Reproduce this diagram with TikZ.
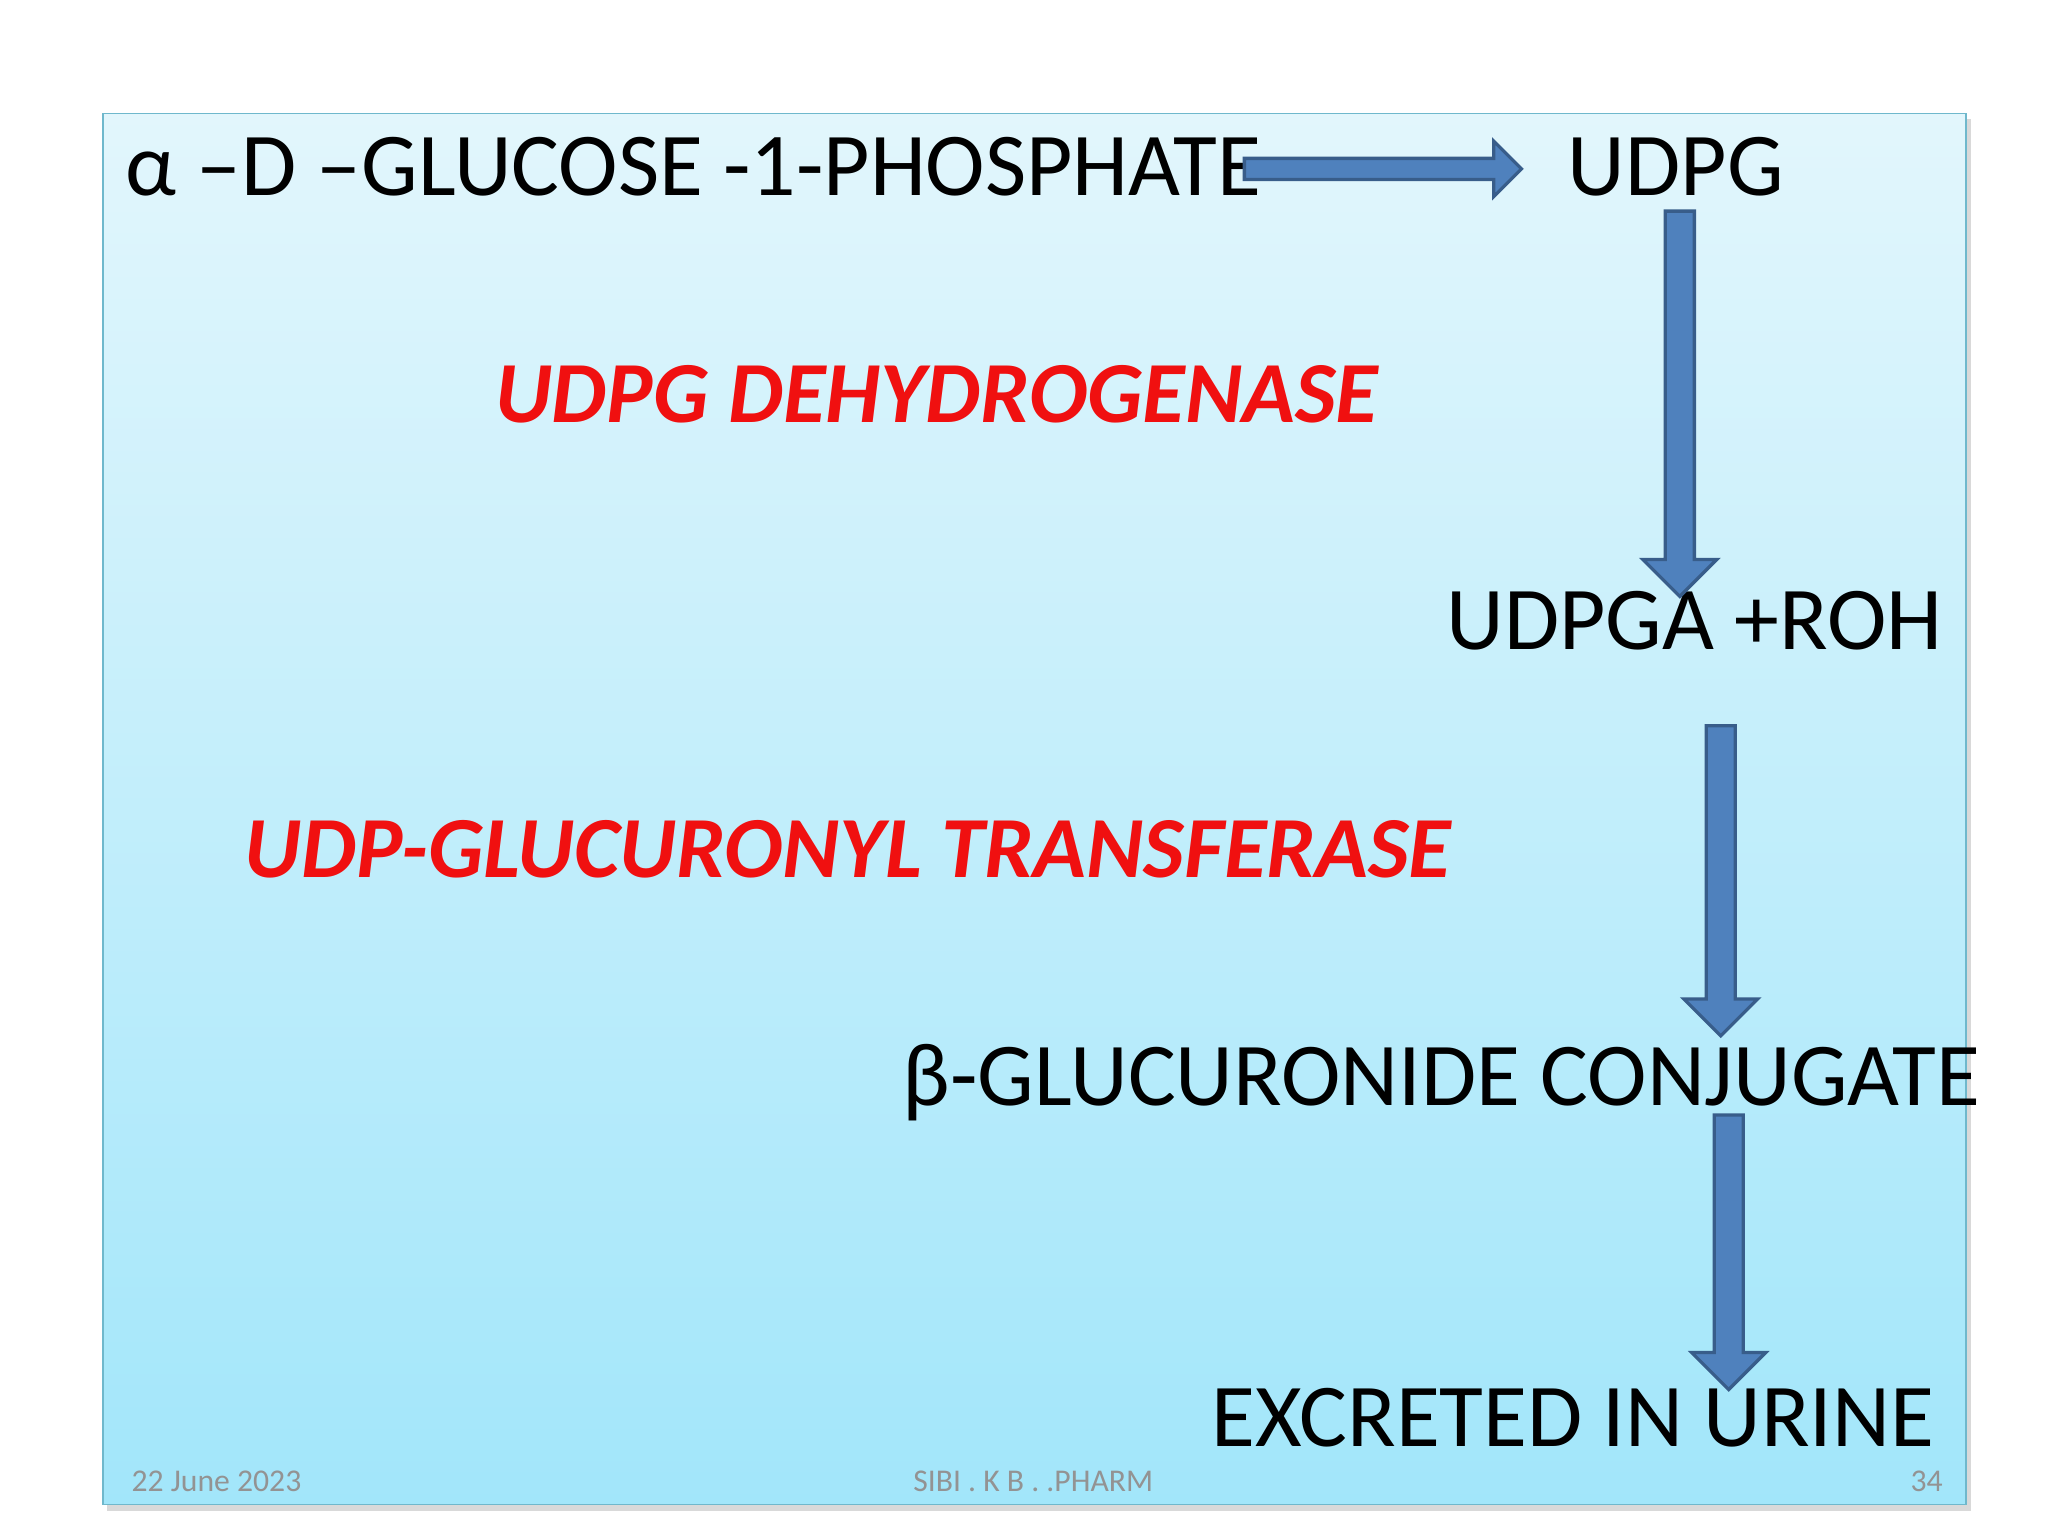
\documentclass[tikz,border=0pt]{standalone}
\usepackage{fontspec}
\setmainfont{Carlito}
\definecolor{topc}{HTML}{E2F6FC}
\definecolor{botc}{HTML}{A2E6FA}
\definecolor{framec}{HTML}{6FB8CC}
\definecolor{arrf}{HTML}{4F81BD}
\definecolor{arrd}{HTML}{385D8A}
\definecolor{enz}{HTML}{F01010}
\tikzset{
  big/.style={font=\fontsize{68}{70}\selectfont, inner sep=0pt, anchor=base west},
  enzt/.style={font=\fontsize{66}{70}\selectfont\bfseries\itshape, text=enz, inner sep=0pt, anchor=base west},
  foot/.style={font=\fontsize{24}{26}\selectfont, text=gray!85, inner sep=0pt, anchor=base},
  blk/.style={fill=arrf, draw=arrd, line width=2.5pt, line join=miter}
}
\newcommand\varrow[3]{% x, ytop, ytip
  \draw[blk] (#1-11,#2) -- (#1+11,#2) -- (#1+11,#3-28) -- (#1+28,#3-28) -- (#1,#3) -- (#1-28,#3-28) -- (#1-11,#3-28) -- cycle;}
\begin{document}
\begin{tikzpicture}[x=1pt,y=-1pt]
\useasboundingbox (0,0) rectangle (1552,1164);
\fill[white] (0,0) rectangle (1552,1164);
\fill[gray!30] (81,90) rectangle (1494,1145);
\shade[top color=topc, bottom color=botc, draw=framec, line width=1.2pt] (78,86) rectangle (1490,1140);
\node[big] (g1p) at (95,148) {α –D –GLUCOSE -1-PHOSPHATE};
\node[big] (udpg) at (1188,148) {UDPG};
\node[enzt] (e1) at (375,320) {UDPG DEHYDROGENASE};
\node[big] (udpga) at (1096,492) {UDPGA +ROH};
\node[enzt] (e2) at (185,665) {UDP-GLUCURONYL TRANSFERASE};
\node[big] (conj) at (684,838) {β-GLUCURONIDE CONJUGATE};
\node[big] (urine) at (918,1096) {EXCRETED IN URINE};
\node[foot] (date) at (164,1130) {22 June 2023};
\node[foot] (auth) at (783,1130) {SIBI . K  B . .PHARM};
\node[foot] (pg) at (1460,1130) {34};
\draw[blk] (943,120) -- (1132,120) -- (1132,107) -- (1153,128) -- (1132,149) -- (1132,136) -- (943,136) -- cycle;
\varrow{1273}{160}{452}
\varrow{1304}{550}{785}
\varrow{1310}{845}{1053}
\end{tikzpicture}
\end{document}
